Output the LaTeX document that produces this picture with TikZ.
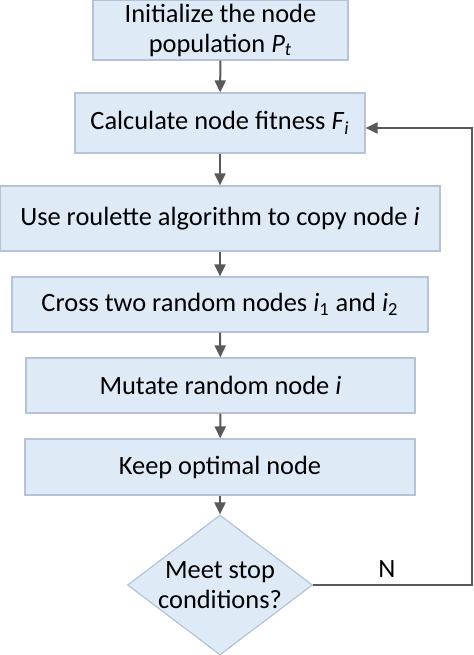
\documentclass[tikz,border=0pt]{standalone}
\usepackage{fontspec}
\setmainfont{Carlito}
\usepackage{xcolor}
\usepackage{tikz}
\usetikzlibrary{arrows.meta,shapes.geometric,positioning}

\definecolor{boxfill}{HTML}{DEEAF6}
\definecolor{boxline}{HTML}{B4C4D6}
\definecolor{arrowgray}{HTML}{595959}

\tikzset{
  stepbox/.style={draw=boxline, fill=boxfill, line width=0.6pt, inner sep=0pt,
    align=center, font=\fontsize{13.2}{15}\selectfont},
  decide/.style={diamond, draw=boxline, fill=boxfill, line width=0.6pt, inner sep=-6pt,
    align=center, font=\fontsize{13.2}{15}\selectfont},
  flow/.style={draw=arrowgray, line width=1pt, -{Triangle[width=5.5pt,length=6pt]}}
}

\begin{document}
\begin{tikzpicture}[x=0.5pt,y=0.5pt]

\useasboundingbox (0,0) rectangle (474,655);

% boxes of the flow
\node[stepbox, minimum width=127.5pt, minimum height=30pt] (init) at (220.5,625)
  {Initialize the node\\population \textit{P}\textsubscript{\textit{t}}};
\node[stepbox, minimum width=145pt, minimum height=30pt] (fit) at (220,532)
  {Calculate node fitness \textit{F}\textsubscript{\textit{i}}};
\node[stepbox, minimum width=220pt, minimum height=32.5pt] (copy) at (220,436.5)
  {Use roulette algorithm to copy node \textit{i}};
\node[stepbox, minimum width=208pt, minimum height=27.5pt] (cross) at (220,350.5)
  {Cross two random nodes \textit{i}\textsubscript{1} and \textit{i}\textsubscript{2}};
\node[stepbox, minimum width=194.5pt, minimum height=27.5pt] (mutate) at (220.5,269.5)
  {Mutate random node \textit{i}};
\node[stepbox, minimum width=195pt, minimum height=28pt] (keep) at (220,188)
  {Keep optimal node};
\node[decide, minimum width=92.5pt, minimum height=70pt] (stop) at (220,70)
  {Meet stop\\conditions?};

% arrows
\draw[flow] (init) -- (fit);
\draw[flow] (fit) -- (copy);
\draw[flow] (copy) -- (cross);
\draw[flow] (cross) -- (mutate);
\draw[flow] (mutate) -- (keep);
\draw[flow] (keep) -- (stop);

% loop back
\coordinate (back) at (472,527);
\draw[flow] (stop.east) -| (back) -- (fit.east |- back);
\node[font=\fontsize{13.2}{15}\selectfont] (no) at (387,86) {N};

\end{tikzpicture}
\end{document}
